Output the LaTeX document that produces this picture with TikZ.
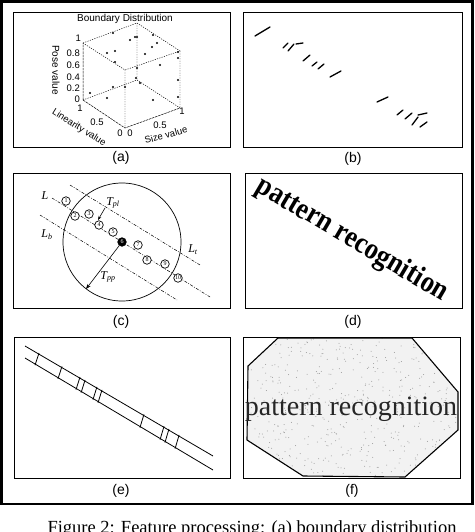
\documentclass[tikz,border=0pt]{standalone}
\usepackage{fontspec}
\setmainfont{Liberation Serif}
\newfontfamily\sansf{Liberation Sans}
\usetikzlibrary{arrows.meta,calc}
\begin{document}
\begin{tikzpicture}[x=1pt,y=-1pt,
 frame/.style={draw=black,line width=0.9pt},
 plab/.style={font=\sansf\fontsize{14}{16}\selectfont,inner sep=0pt},
 ticklab/.style={font=\sansf\fontsize{9.5}{10}\selectfont,inner sep=0pt},
 boxline/.style={line width=0.45pt,dash pattern=on 1.2pt off 1.2pt},
 axisline/.style={line width=0.5pt,dash pattern=on 2.5pt off 0.8pt},
 stroke/.style={line width=1.3pt,line cap=round},
 dashdot/.style={line width=0.5pt,dash pattern=on 3pt off 1.5pt on 0.8pt off 1.5pt},
 numc/.style={circle,draw,fill=white,line width=0.7pt,minimum size=8.5pt,inner sep=0pt,font=\fontsize{6}{6}\selectfont},
 clab/.style={font=\itshape\fontsize{12}{12}\selectfont,inner sep=0pt},
]
\clip (0,0) rectangle (474,532);
\fill[white] (0,0) rectangle (474,532);
\draw[line width=2.2pt] (1.5,1.5) rectangle (472.5,504);

% ---------------- panel frames and labels
\draw[frame] (13,12) rectangle (230,147);
\node[plab] (la) at (121,158) {(a)};
\draw[frame] (243,12) rectangle (462,147);
\node[plab] (lb) at (353,159) {(b)};
\draw[frame] (13,173) rectangle (230,308);
\node[plab] (lc) at (121,322) {(c)};
\draw[frame] (245,173) rectangle (462,308);
\node[plab] (ld) at (353,322) {(d)};
\draw[frame] (14,337) rectangle (230,478);
\node[plab] (le) at (121,491) {(e)};
\draw[frame] (243,337) rectangle (460,478);
\node[plab] (lf) at (352,491) {(f)};

% ---------------- panel (a)
\node[font=\sansf\fontsize{10}{10}\selectfont,inner sep=0pt] (ta) at (125,19) {Boundary Distribution};
\coordinate (F) at (125,128);
\coordinate (L) at (83,100);
\coordinate (R) at (180,108);
\coordinate (B) at (137,80);
\coordinate (Ft) at (125,70);
\coordinate (Lt) at (83,43);
\coordinate (Rt) at (180,51);
\coordinate (Bt) at (137,23);
\draw[boxline] (Lt)--(Bt)--(Rt)--(Ft)--cycle;
\draw[boxline] (Bt)--(B) (L)--(B)--(R) (Rt)--(R) (Ft)--(F);
\draw[axisline] (L)--(Lt) (L)--(F)--(R);
\foreach \px/\py in {113/33,130/40,135/37,137/37,153/35,152/47,157/43,107/53,115/51,115/62,145/54,178/52,178/58,160/65,137/68,136/78,140/83,90/93,113/87,125/87,107/98,153/100,178/80,178/97}
  \fill (\px,\py) circle (1.1pt);
\node[ticklab,anchor=east] (pz1) at (81,38) {1};
\node[ticklab,anchor=east] (pz2) at (80,53) {0.8};
\node[ticklab,anchor=east] (pz3) at (80,65) {0.6};
\node[ticklab,anchor=east] (pz4) at (80,77) {0.4};
\node[ticklab,anchor=east] (pz5) at (80,88) {0.2};
\node[ticklab,anchor=east] (pz6) at (80,99) {0};
\node[ticklab] (lx1) at (80,108) {1};
\node[ticklab] (lx2) at (97,122) {0.5};
\node[ticklab] (lx3) at (120,133) {0};
\node[ticklab] (sx1) at (130,133) {0};
\node[ticklab] (sx2) at (160,125) {0.5};
\node[ticklab] (sx3) at (182,111) {1};
\node[ticklab,font=\sansf\fontsize{10}{10}\selectfont,rotate=-90] (pl) at (56,70) {Pose value};
\node[ticklab,rotate=-32] (ll) at (79,128) {Linearity value};
\node[ticklab,rotate=15] (sl) at (166,135) {Size value};

% ---------------- panel (b)
\foreach \ax/\ay/\bx/\by in {255/36/270/27,283/48/288/43,288/51/294/44,296/44/303/43,303/61/310/55,312/66/317/62,318/69/324/64,330/77/341/71,377/102/388/97,397/115/403/110,405/119/412/113,412/125/418/117,418/115/427/113,420/127/427/122}
  \draw[stroke] (\ax,\ay) -- (\bx,\by);

% ---------------- panel (c)
\draw[dashdot] (70,185) -- (200,265);
\draw[dashdot] (52,198) -- (210,297);
\draw[dashdot] (40,215) -- (177,300);
\node[numc] (c1) at (66,201) {1};
\node[numc] (c2) at (75,216) {2};
\node[numc] (c3) at (89,214) {3};
\node[numc] (c4) at (99,225) {4};
\node[numc] (c5) at (113,232) {5};
\node[numc,fill=black,text=white] (c6) at (122,242) {6};
\node[numc] (c7) at (138,245) {7};
\node[numc] (c8) at (147,260) {8};
\node[numc] (c9) at (165,264) {9};
\node[numc] (c10) at (178,278) {10};
\draw[line width=0.7pt] (c6.center) circle (59pt);
\node[clab] (tL) at (45,196) {L};
\node[clab] (tTpl) at (113,203) {T\textsubscript{pl}};
\node[clab] (tLb) at (47,235) {L\textsubscript{b}};
\node[clab] (tLt) at (193,250) {L\textsubscript{t}};
\node[clab] (tTpp) at (108,277) {T\textsubscript{pp}};
\coordinate (tp1) at (105,208);
\coordinate (tp2) at (98,220);
\draw[line width=0.6pt,-{Stealth[length=4pt]}] (tp1) -- (tp2);
\coordinate (tpe) at (86,289);
\draw[line width=0.6pt,-{Stealth[length=5pt]}] (c6) -- (tpe);

% ---------------- panel (d)
\begin{scope}
\clip (245,173) rectangle (462,308);
\node[font=\bfseries\fontsize{30}{30}\selectfont,rotate=-30.5,inner sep=0pt] (dt) at (352,240) {\scalebox{0.88}[1]{pattern recognition}};
\end{scope}

% ---------------- panel (e)
\coordinate (U1) at (25,346);
\coordinate (U2) at (213,456);
\coordinate (D1) at (25,358);
\coordinate (D2) at (213,470);
\draw[line width=0.8pt] (U1) -- (U2);
\draw[line width=0.8pt] (D1) -- (D2);
\foreach \t in {0.064,0.186,0.282,0.309,0.372,0.399,0.622,0.729,0.755,0.809}
  \draw[line width=0.8pt] ($(U1)!\t!(U2)+(2,0)$) -- ($(D1)!\t!(D2)+(-2,0)$);

% ---------------- panel (f)
\coordinate (o1) at (278,338);
\coordinate (o2) at (412,338);
\coordinate (o3) at (458,392);
\coordinate (o4) at (458,430);
\coordinate (o5) at (405,477);
\coordinate (o6) at (303,476);
\coordinate (o7) at (247,440);
\coordinate (o8) at (248,366);
\fill[gray!10] (o1)--(o2)--(o3)--(o4)--(o5)--(o6)--(o7)--(o8)--cycle;
\begin{scope}
\clip (o1)--(o2)--(o3)--(o4)--(o5)--(o6)--(o7)--(o8)--cycle;
\pgfmathsetseed{7}
\foreach \i in {1,...,520}
  \fill[gray!80] ({250+rnd*208},{338+rnd*140}) circle (0.5pt);
\end{scope}
\draw[line width=1.1pt] (o1)--(o2)--(o3)--(o4)--(o5)--(o6)--(o7)--(o8)--cycle;
\node[font=\fontsize{28}{28}\selectfont,text=black!85,inner sep=0pt,anchor=base] (ft) at (351,415) {pattern recognition};

% ---------------- caption (cut off at the bottom)
\node[font=\fontsize{18.5}{18.5}\selectfont,inner sep=0pt,anchor=base] (cap) at (252,533) {Figure 2: Feature processing: (a) boundary distribution};
\end{tikzpicture}
\end{document}
